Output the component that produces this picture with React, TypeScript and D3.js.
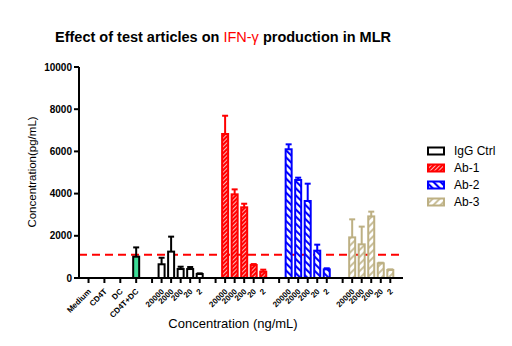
import React from "react";
import * as d3 from "d3";

const controlLabels = ["Medium", "CD4T", "DC", "CD4T+DC"];
const controlMean = [0, 0, 0, 1010];
const controlErr = [0, 0, 0, 440];
const concLabels = ["20000", "2000", "200", "20", "2"];
const seriesNames = ["IgG Ctrl", "Ab-1", "Ab-2", "Ab-3"];
const iggMean = [650, 1250, 425, 425, 190];
const iggErr = [310, 710, 110, 95, 30];
const ab1Mean = [6825, 3965, 3350, 615, 300];
const ab1Err = [865, 235, 170, 45, 95];
const ab2Mean = [6100, 4645, 3650, 1295, 410];
const ab2Err = [235, 110, 820, 285, 50];
const ab3Mean = [1925, 1595, 2920, 695, 380];
const ab3Err = [855, 840, 225, 30, 30];
const yTicks = [0, 2000, 4000, 6000, 8000, 10000];
const threshold = 1100;

const FONT = "Arial, 'Liberation Sans', sans-serif";

export default function App() {
  const x = d3.scaleLinear().domain([-3, 99]).range([79, 403]);
  const y = d3.scaleLinear().domain([0, 10000]).range([278, 67]);
  const bw = 6;

  const seriesMeans = [iggMean, ab1Mean, ab2Mean, ab3Mean];
  const seriesErrs = [iggErr, ab1Err, ab2Err, ab3Err];
  const strokes = ["#000000", "#ff0000", "#0000ff", "#bdb083"];
  const fills = ["#ffffff", "url(#pRed)", "url(#pBlue)", "url(#pTan)"];

  type Bar = { pos: number; v: number; e: number; stroke: string; fill: string };
  const bars: Bar[] = [];
  controlLabels.forEach((_, i) => {
    if (controlMean[i] > 0)
      bars.push({ pos: i * 5, v: controlMean[i], e: controlErr[i], stroke: "#000", fill: "#3ddc97" });
  });
  seriesMeans.forEach((arr, g) => {
    arr.forEach((v, i) => {
      bars.push({ pos: 23 + 20 * g + 3 * i, v, e: seriesErrs[g][i], stroke: strokes[g], fill: fills[g] });
    });
  });

  type Tick = { pos: number; label: string };
  const ticks: Tick[] = [];
  controlLabels.forEach((l, i) => ticks.push({ pos: i * 5, label: l }));
  seriesMeans.forEach((_, g) => {
    ticks.push({ pos: 20 + 20 * g, label: "" });
    concLabels.forEach((l, i) => ticks.push({ pos: 23 + 20 * g + 3 * i, label: l }));
  });

  return (
    <svg width={512} height={346} style={{ position: "absolute", left: 0, top: 0, background: "#fff" }}>
      <defs>
        <pattern id="pRed" patternUnits="userSpaceOnUse" width={3} height={3} patternTransform="rotate(45)">
          <rect width={3} height={3} fill="#ff0000" />
          <line x1={0} y1={0} x2={0} y2={3} stroke="#fff" strokeWidth={1.4} />
        </pattern>
        <pattern id="pBlue" patternUnits="userSpaceOnUse" width={5} height={5} patternTransform="rotate(-45)">
          <rect width={5} height={5} fill="#fff" />
          <line x1={1} y1={0} x2={1} y2={5} stroke="#0000ff" strokeWidth={2.2} />
        </pattern>
        <pattern id="pTan" patternUnits="userSpaceOnUse" width={5} height={5} patternTransform="rotate(45)">
          <rect width={5} height={5} fill="#fff" />
          <line x1={1} y1={0} x2={1} y2={5} stroke="#bdb083" strokeWidth={1.6} />
        </pattern>
      </defs>

      <text x={223} y={42} textAnchor="middle" fontFamily={FONT} fontSize={14.5} fontWeight="bold">
        <tspan>Effect of test articles on </tspan>
        <tspan fill="#ff0000" fontWeight="normal">IFN-γ</tspan>
        <tspan> production in MLR</tspan>
      </text>

      {/* threshold */}
      <line x1={x(-3)} x2={x(99)} y1={y(threshold)} y2={y(threshold)} stroke="#ff0000" strokeWidth={2} strokeDasharray="8,5" />

      {/* bars */}
      {bars.map((b, i) => (
        <g key={i}>
          <line x1={x(b.pos)} x2={x(b.pos)} y1={y(b.v)} y2={y(b.v + b.e)} stroke={b.stroke} strokeWidth={2} />
          <line x1={x(b.pos) - 3} x2={x(b.pos) + 3} y1={y(b.v + b.e)} y2={y(b.v + b.e)} stroke={b.stroke} strokeWidth={2} />
          <rect x={x(b.pos) - bw / 2} y={y(b.v)} width={bw} height={y(0) - y(b.v)} fill={b.fill} stroke={b.stroke} strokeWidth={2} />
        </g>
      ))}

      {/* y axis */}
      <line x1={79} x2={79} y1={y(10000)} y2={y(0) + 1} stroke="#000" strokeWidth={2} />
      {yTicks.map((t) => (
        <g key={t}>
          <line x1={74} x2={79} y1={y(t)} y2={y(t)} stroke="#000" strokeWidth={2} />
          <text x={72} y={y(t)} dy="0.35em" textAnchor="end" fontFamily={FONT} fontSize={10} fontWeight="bold">
            {t}
          </text>
        </g>
      ))}
      <text
        transform={`translate(36,172) rotate(-90)`}
        textAnchor="middle"
        fontFamily={FONT}
        fontSize={11.5}
      >
        Concentration(pg/mL)
      </text>

      {/* x axis */}
      <line x1={78} x2={x(99)} y1={y(0)} y2={y(0)} stroke="#000" strokeWidth={2} />
      {ticks.map((t, i) => (
        <g key={i}>
          <line x1={x(t.pos)} x2={x(t.pos)} y1={y(0)} y2={y(0) + 5} stroke="#000" strokeWidth={2} />
          {t.label && (
            <text
              transform={`translate(${x(t.pos) + 1},${y(0) + 12}) rotate(-45)`}
              textAnchor="end"
              dy="0.35em"
              fontFamily={FONT}
              fontSize={8}
              fontWeight="bold"
            >
              {t.label}
            </text>
          )}
        </g>
      ))}
      <text x={233} y={328} textAnchor="middle" fontFamily={FONT} fontSize={13}>
        Concentration (ng/mL)
      </text>

      {/* legend */}
      {seriesNames.map((n, i) => (
        <g key={n} transform={`translate(428,${151 + i * 17})`}>
          <rect x={0} y={-3.5} width={16} height={7} fill={fills[i]} stroke={strokes[i]} strokeWidth={2} />
          <text x={26} y={0} dy="0.35em" fontFamily={FONT} fontSize={12}>
            {n}
          </text>
        </g>
      ))}
    </svg>
  );
}
